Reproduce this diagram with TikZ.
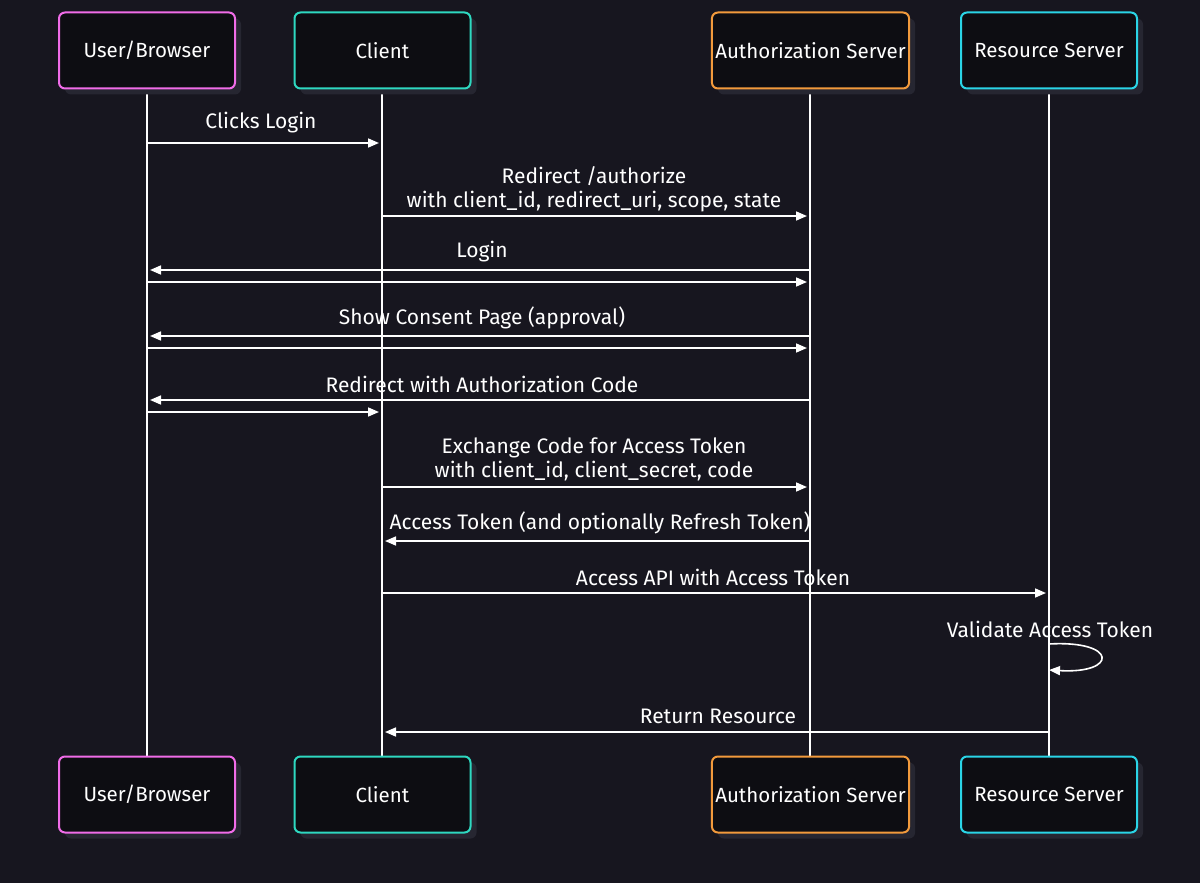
\documentclass[tikz,border=0pt]{standalone}
\usepackage{fontspec}
\setmainfont{Fira Sans}
\usetikzlibrary{arrows.meta}
\definecolor{bg}{HTML}{17161F}
\definecolor{boxfill}{HTML}{0D0D12}
\definecolor{shadow}{HTML}{262631}
\definecolor{cpink}{HTML}{F06CE8}
\definecolor{cteal}{HTML}{2ED8C0}
\definecolor{corange}{HTML}{F29A3C}
\definecolor{ccyan}{HTML}{2AD4E6}
\begin{document}
\begin{tikzpicture}[x=1pt,y=-1pt,
  actor/.style={draw=#1,line width=2pt,fill=boxfill,rounded corners=6pt,minimum width=176pt,minimum height=76pt,text=white,font=\fontsize{20.5}{24}\selectfont,
    preaction={fill=shadow,draw=none,transform canvas={xshift=6pt,yshift=-6pt}}},
  life/.style={draw=white,line width=1.6pt},
  msg/.style={draw=white,line width=1.6pt,-{Triangle[length=11pt,width=9pt]}},
  lbl/.style={text=white,font=\fontsize{21}{24}\selectfont,align=center}]
\useasboundingbox[fill=bg] (0,0) rectangle (1200,883);
% lifelines
\coordinate (uT) at (147,60); \coordinate (uB) at (147,780);
\coordinate (cT) at (382,60); \coordinate (cB) at (382,780);
\coordinate (aT) at (810,60); \coordinate (aB) at (810,780);
\coordinate (rT) at (1049,60); \coordinate (rB) at (1049,780);
\draw[life] (uT)--(uB); \draw[life] (cT)--(cB); \draw[life] (aT)--(aB); \draw[life] (rT)--(rB);
\node[actor=cpink] (u1) at (147,50.5) {User/Browser};
\node[actor=cteal] (c1) at (382.5,50.5) {Client};
\node[actor=corange,minimum width=182pt] (a1) at (810.5,50.5) {Authorization Server};
\node[actor=ccyan] (r1) at (1049,50.5) {Resource Server};
\node[actor=cpink] (u2) at (147,794.5) {User/Browser};
\node[actor=cteal] (c2) at (382.5,794.5) {Client};
\node[actor=corange,minimum width=182pt] (a2) at (810.5,794.5) {Authorization Server};
\node[actor=ccyan] (r2) at (1049,794.5) {Resource Server};
% message coordinates
\foreach \n/\y in {1/143,2/216,3/270,4/282,5/336,6/348,7/400,8/412,9/487,10/541,11/593,13/732}{
  \coordinate (u\n) at (147,\y); \coordinate (c\n) at (382,\y);
  \coordinate (a\n) at (810,\y); \coordinate (r\n) at (1049,\y);}
\draw[msg,shorten >=3pt] (u1)--(c1);
\draw[msg,shorten >=3pt] (c2)--(a2);
\draw[msg,shorten >=3pt] (a3)--(u3);
\draw[msg,shorten >=3pt] (u4)--(a4);
\draw[msg,shorten >=3pt] (a5)--(u5);
\draw[msg,shorten >=3pt] (u6)--(a6);
\draw[msg,shorten >=3pt] (a7)--(u7);
\draw[msg,shorten >=3pt] (u8)--(c8);
\draw[msg,shorten >=3pt] (c9)--(a9);
\draw[msg,shorten >=3pt] (a10)--(c10);
\draw[msg,shorten >=3pt] (c11)--(r11);
\draw[msg,shorten >=3pt] (r13)--(c13);
\coordinate (l1) at (1049,644); \coordinate (l2) at (1049,670);
\draw[msg] (l1) .. controls (1118,640) and (1118,674) .. (l2);
% labels
\node[lbl] (t1) at (261,123) {Clicks Login};
\node[lbl] (t2) at (594,189) {Redirect /authorize\\with client\_id, redirect\_uri, scope, state};
\node[lbl] (t3) at (482,252) {Login};
\node[lbl] (t5) at (482,318) {Show Consent Page (approval)};
\node[lbl] (t7) at (482,384) {Redirect with Authorization Code};
\node[lbl] (t9) at (594,459) {Exchange Code for Access Token\\with client\_id, client\_secret, code};
\node[lbl] (t10) at (600,523) {Access Token (and optionally Refresh Token)};
\node[lbl] (t11) at (713,577) {Access API with Access Token};
\node[lbl] (t12) at (1050,629) {Validate Access Token};
\node[lbl] (t13) at (718,716) {Return Resource};
\end{tikzpicture}
\end{document}
